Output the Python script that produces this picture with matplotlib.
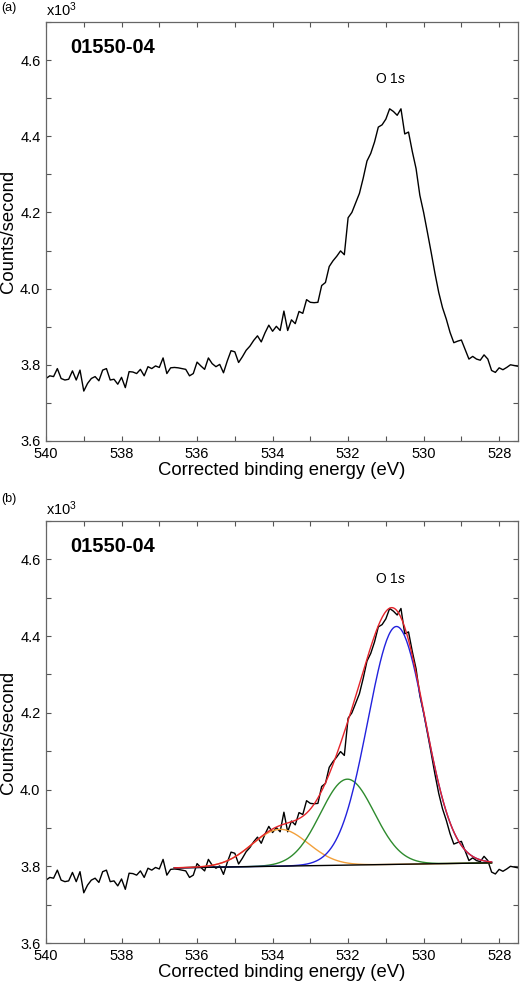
"""O 1s XPS spectrum of sample 01550-04: raw data (a) and peak fit (b)."""

import matplotlib
matplotlib.use("Agg")
import matplotlib.pyplot as plt
import numpy as np
from matplotlib.ticker import MultipleLocator

plt.rcParams["font.family"] = ["Liberation Sans", "DejaVu Sans"]
plt.rcParams["mathtext.fontset"] = "custom"
plt.rcParams["mathtext.rm"] = "Liberation Sans"
plt.rcParams["mathtext.it"] = "Liberation Sans:italic"

SAMPLE = "01550-04"

# counts/second (x10^3), 0.1 eV steps from 540.0 eV down to 527.5 eV
counts = [
    3.764, 3.771, 3.769, 3.790, 3.764, 3.760, 3.762, 3.784, 3.760, 3.786,
    3.731, 3.751, 3.764, 3.769, 3.758, 3.786, 3.790, 3.760, 3.762, 3.749,
    3.767, 3.740, 3.782, 3.781, 3.777, 3.788, 3.771, 3.795, 3.790, 3.797,
    3.793, 3.818, 3.777, 3.792, 3.793, 3.792, 3.790, 3.788, 3.771, 3.777,
    3.807, 3.797, 3.788, 3.818, 3.803, 3.795, 3.801, 3.779, 3.810, 3.837,
    3.834, 3.806, 3.821, 3.838, 3.849, 3.864, 3.876, 3.860, 3.884, 3.904,
    3.888, 3.901, 3.890, 3.941, 3.890, 3.918, 3.908, 3.940, 3.935, 3.971,
    3.964, 3.963, 3.964, 4.008, 4.016, 4.058, 4.073, 4.085, 4.099, 4.089,
    4.186, 4.200, 4.225, 4.250, 4.290, 4.335, 4.355, 4.385, 4.424, 4.430,
    4.445, 4.472, 4.465, 4.455, 4.472, 4.406, 4.411, 4.360, 4.315, 4.245,
    4.200, 4.148, 4.095, 4.040, 3.990, 3.950, 3.920, 3.885, 3.858, 3.862,
    3.865, 3.840, 3.815, 3.822, 3.815, 3.812, 3.826, 3.815, 3.785, 3.780,
    3.792, 3.787, 3.793, 3.800, 3.798, 3.796,
]
energy = np.round(540.0 - 0.1 * np.arange(len(counts)), 1)

# linear background end points (eV, x10^3 counts/s)
bg_energy = [536.6, 528.2]
bg_counts = [3.796, 3.809]

# fitted components: orange, green, blue
peak_center = [533.80, 532.02, 530.72]
peak_height = [0.096, 0.224, 0.620]
peak_fwhm = [1.75, 1.68, 1.78]
peak_color = ["#f2a03a", "#2e8b2e", "#2222dd"]
envelope_color = "#e4242b"


def style_axes(ax):
    ax.set_xlim(540, 527.5)
    ax.set_ylim(3.6, 4.7)
    ax.xaxis.set_major_locator(MultipleLocator(2))
    ax.xaxis.set_minor_locator(MultipleLocator(1))
    ax.yaxis.set_major_locator(MultipleLocator(0.2))
    ax.yaxis.set_minor_locator(MultipleLocator(0.1))
    ax.yaxis.set_major_formatter(lambda v, p: f"{v:.1f}")
    ax.tick_params(which="both", direction="in", top=True, right=True,
                   length=3.5, width=0.8, color="#555555", labelsize=10.5, pad=4)
    for sp in ax.spines.values():
        sp.set_color("#666666")
        sp.set_linewidth(0.9)
    ax.set_xlabel("Corrected binding energy (eV)", fontsize=13.3, labelpad=1)
    ax.set_ylabel("Counts/second", fontsize=13.3, labelpad=2)
    ax.text(0.051, 0.94, SAMPLE, transform=ax.transAxes, fontsize=14.5,
            fontweight="bold", va="center", ha="left")
    ax.text(530.89, 4.549, r"O $\mathit{1s}$", fontsize=10, ha="center", va="center")
    ax.text(0.0, 1.008, r"x10$^3$", transform=ax.transAxes, fontsize=10.5,
            ha="left", va="bottom")


fig = plt.figure(figsize=(5.2, 9.81), dpi=100)
ax_a = fig.add_axes([0.0885, 0.5505, 0.9077, 0.4271])
ax_b = fig.add_axes([0.0885, 0.0387, 0.9077, 0.4302])

ax_a.plot(energy, counts, color="black", lw=1.0)
style_axes(ax_a)

ax_b.plot(energy, counts, color="black", lw=1.0)
e_fit = np.linspace(bg_energy[0], bg_energy[1], 300)
bg = np.interp(e_fit, bg_energy[::-1], bg_counts[::-1])
total = bg.copy()
for c, h, w, col in zip(peak_center, peak_height, peak_fwhm, peak_color):
    sigma = w / 2.3548
    comp = h * np.exp(-0.5 * ((e_fit - c) / sigma) ** 2)
    total += comp
    ax_b.plot(e_fit, bg + comp, color=col, lw=1.0)
ax_b.plot(e_fit, bg, color="black", lw=1.0)
ax_b.plot(e_fit, total, color=envelope_color, lw=1.0)
style_axes(ax_b)

fig.text(0.002, 0.9915, "(a)", fontsize=9, ha="left", va="center")
fig.text(0.002, 0.4915, "(b)", fontsize=9, ha="left", va="center")

fig.savefig("out.png", dpi=100)
